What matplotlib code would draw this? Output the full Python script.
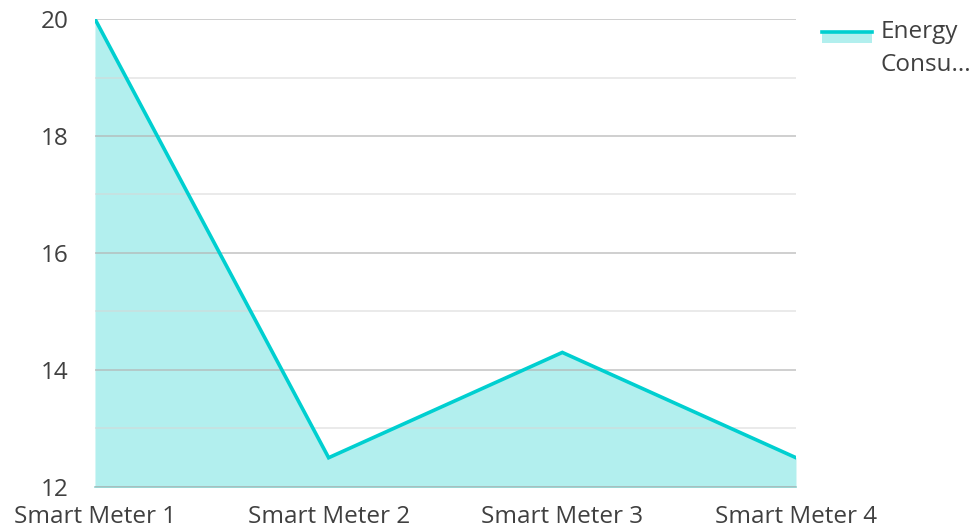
import matplotlib
matplotlib.use("Agg")
import matplotlib.pyplot as plt
from matplotlib.lines import Line2D
from matplotlib.patches import Rectangle

plt.rcParams["font.family"] = ["Open Sans", "DejaVu Sans"]

meters = ["Smart Meter 1", "Smart Meter 2", "Smart Meter 3", "Smart Meter 4"]
energy = [20.0, 12.5, 14.3, 12.5]
major_ticks = [12, 14, 16, 18, 20]
minor_ticks = [13, 15, 17, 19]

LINE = "#00cfd0"
FILL = "#b2efee"
TEXT = "#404040"
FS = 17.5

fig = plt.figure(figsize=(9.75, 5.28), dpi=100)
ax = fig.add_axes([0.0974, 0.0777, 0.7190, 0.8863])

x = list(range(len(meters)))
ax.fill_between(x, energy, 12, color=FILL, linewidth=0, zorder=1)
ax.plot(x, energy, color=LINE, linewidth=2.6, zorder=3, solid_joinstyle="miter")

ax.set_xlim(0, len(meters) - 1)
ax.set_ylim(12, 20)
ax.set_yticks(major_ticks)
ax.set_yticks(minor_ticks, minor=True)
ax.set_xticks(x)
ax.set_xticklabels(meters)

ax.grid(axis="y", which="major", color="#b4b4b4", linewidth=1.2, alpha=0.75, zorder=2)
ax.grid(axis="y", which="minor", color="#d6d6d6", linewidth=1.2, alpha=0.6, zorder=2)
ax.set_axisbelow(False)
for s in ["top", "right", "left"]:
    ax.spines[s].set_visible(False)
ax.spines["bottom"].set_color("#8fcfcd")
ax.spines["bottom"].set_linewidth(1.2)

ax.tick_params(axis="both", which="both", length=0, labelsize=FS, labelcolor=TEXT)
ax.tick_params(axis="y", pad=19)
ax.tick_params(axis="x", pad=13)

# legend drawn by hand: line on top of a filled swatch
fig.patches.append(Rectangle((0.843, 0.918), 0.051, 0.022, transform=fig.transFigure,
                             facecolor=FILL, edgecolor="none"))
fig.lines.append(Line2D([0.843, 0.894], [0.94, 0.94], transform=fig.transFigure,
                        color=LINE, linewidth=2.6))
fig.text(0.903, 0.908, "Energy\nConsu...", ha="left", va="center",
         fontsize=FS, color=TEXT, linespacing=1.5)

fig.savefig("out.png", dpi=100)
